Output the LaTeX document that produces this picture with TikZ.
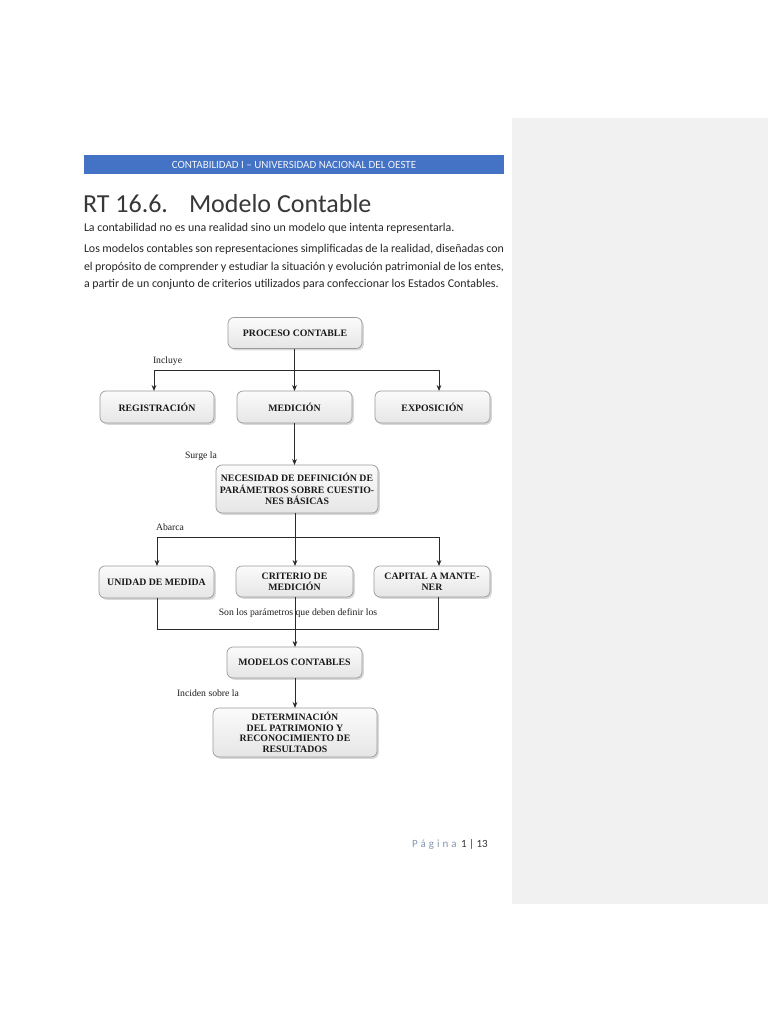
\documentclass[tikz,border=0pt]{standalone}
\usepackage{fontspec}
\setmainfont{Carlito}
\newfontfamily\diagfont{Liberation Serif}
\usetikzlibrary{shadows,arrows.meta}
\definecolor{hdrblue}{HTML}{4472C4}
\definecolor{panelgrey}{HTML}{F1F1F1}
\definecolor{pagecol}{HTML}{8496B0}
\definecolor{bodytxt}{HTML}{262626}
\definecolor{boxline}{HTML}{9A9A9A}
\definecolor{lineclr}{HTML}{2A2A2A}
\begin{document}
\begin{tikzpicture}[x=1pt,y=-1pt,
  every node/.style={inner sep=0pt, outer sep=0pt},
  flowbox/.style={draw=boxline, line width=0.7pt, rounded corners=6pt,
    top color=gray!3, bottom color=gray!20,
    drop shadow={shadow xshift=1.8pt, shadow yshift=-1.8pt, opacity=0.3, fill=gray},
    font=\diagfont\bfseries\fontsize{9.8}{11.3}\selectfont, text=black!90, align=center},
  flowlabel/.style={font=\diagfont\fontsize{9.7}{11}\selectfont, text=black!88},
  conn/.style={draw=lineclr, line width=0.85pt},
  arr/.style={conn, -{Stealth[length=6pt,width=4.8pt]}},
  bodyline/.style={anchor=base west, font=\fontsize{11.9}{14}\selectfont, text=bodytxt}
]
\useasboundingbox (0,0) rectangle (768,1024);
\fill[white] (0,0) rectangle (768,1024);
% comment pane
\fill[panelgrey] (512,118) rectangle (768,904);
% header bar
\fill[hdrblue] (84,155.5) rectangle (504,174);
\node[font=\fontsize{11}{12}\selectfont, text=white!92!hdrblue] (hdr) at (294,165) {CONTABILIDAD I – UNIVERSIDAD NACIONAL DEL OESTE};
% title
\node[anchor=base west, font=\fontsize{26}{30}\selectfont, text=black!78] (t1) at (83,213) {RT 16.6.};
\node[anchor=base west, font=\fontsize{26}{30}\selectfont, text=black!78] (t2) at (189,213) {Modelo Contable};
% body text
\node[bodyline] (b1) at (84,231.5) {La contabilidad no es una realidad sino un modelo que intenta representarla.};
\node[bodyline] (b2) at (84,252.5) {\makebox[420pt][s]{Los modelos contables son representaciones simplificadas de la realidad, diseñadas con}};
\node[bodyline] (b3) at (84,270) {\makebox[420pt][s]{el propósito de comprender y estudiar la situación y evolución patrimonial de los entes,}};
\node[bodyline] (b4) at (84,287.5) {a partir de un conjunto de criterios utilizados para confeccionar los Estados Contables.};

% diagram boxes
\node[flowbox, minimum width=134pt, minimum height=31pt] (pc) at (295,333) {PROCESO CONTABLE};
\node[flowbox, minimum width=114pt, minimum height=32pt] (reg) at (157,407) {REGISTRACIÓN};
\node[flowbox, minimum width=115pt, minimum height=32pt] (med) at (294.5,407) {MEDICIÓN};
\node[flowbox, minimum width=115pt, minimum height=32pt] (exp) at (432.5,407) {EXPOSICIÓN};
\node[flowbox, minimum width=162pt, minimum height=48pt] (nec) at (297,489) {NECESIDAD DE DEFINICIÓN DE\\PARÁMETROS SOBRE CUESTIO-\\NES BÁSICAS};
\node[flowbox, minimum width=115pt, minimum height=32pt] (uni) at (156.5,582) {UNIDAD DE MEDIDA};
\node[flowbox, minimum width=117pt, minimum height=31pt] (cri) at (294.5,581.5) {CRITERIO DE\\MEDICIÓN};
\node[flowbox, minimum width=116pt, minimum height=31pt] (cap) at (432,581.5) {CAPITAL A MANTE-\\NER};
\node[flowbox, minimum width=135pt, minimum height=31pt] (mod) at (294.5,662.5) {MODELOS CONTABLES};
\node[flowbox, minimum width=164pt, minimum height=49pt, font=\diagfont\bfseries\fontsize{9.8}{10.6}\selectfont] (det) at (295,732.5) {DETERMINACIÓN\\DEL PATRIMONIO Y\\RECONOCIMIENTO DE\\RESULTADOS};

% junction coordinates
\coordinate (j1) at (294.5,370);
\coordinate (l1) at (154,370);
\coordinate (r1) at (439,370);
\coordinate (j2) at (295,537);
\coordinate (l2) at (157,537);
\coordinate (r2) at (439,537);
\coordinate (j3) at (295,629.5);
\coordinate (l3) at (157,629.5);
\coordinate (r3) at (438,629.5);

% connectors
\draw[conn] (l1) -- (r1);
\draw[arr] (pc.south -| j1) -- (j1 |- med.north);
\draw[arr] (l1) -- (l1 |- reg.north);
\draw[arr] (r1) -- (r1 |- exp.north);
\draw[arr] (med.south -| j1) -- (j1 |- nec.north);
\draw[conn] (l2) -- (r2);
\draw[arr] (nec.south -| j2) -- (j2 |- cri.north);
\draw[arr] (l2) -- (l2 |- uni.north);
\draw[arr] (r2) -- (r2 |- cap.north);
\draw[conn] (l3 |- uni.south) -- (l3) -- (r3) -- (r3 |- cap.south);
\draw[arr] (j3 |- cri.south) -- (j3 |- mod.north);
\draw[arr] (mod.south -| j3) -- (j3 |- det.north);

% labels
\node[flowlabel, anchor=west] (linc) at (153,361) {Incluye};
\node[flowlabel, anchor=west] (lsur) at (185,456) {Surge la};
\node[flowlabel, anchor=west] (laba) at (156,527) {Abarca};
\node[flowlabel] (lson) at (298,613) {Son los parámetros que deben definir los};
\node[flowlabel, anchor=west] (linc2) at (177,693) {Inciden sobre la};

% footer
\node[anchor=base west, font=\fontsize{11}{12}\selectfont, text=pagecol] (pg) at (412,847) {P\hspace{3pt}á\hspace{3pt}g\hspace{3pt}i\hspace{3pt}n\hspace{3pt}a};
\node[anchor=base west, font=\fontsize{11}{12}\selectfont, text=black!80] (pn) at (461,847) {1 | 13};
\end{tikzpicture}
\end{document}
